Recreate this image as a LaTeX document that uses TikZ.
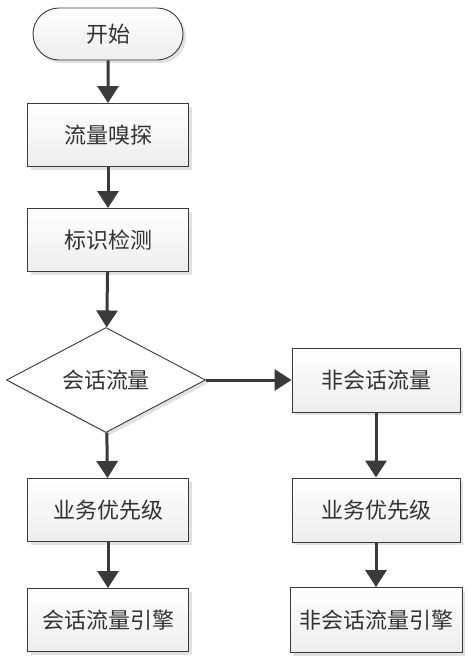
\documentclass[tikz,border=0pt]{standalone}
\usepackage{fontspec}
\newfontfamily\cjk{Noto Sans CJK SC}
\usetikzlibrary{shapes}
\usetikzlibrary{shapes.geometric}
\usetikzlibrary{shadows}
\usetikzlibrary{arrows.meta}
\usetikzlibrary{positioning}
\definecolor{linegray}{HTML}{3A3A3A}
\definecolor{textgray}{HTML}{333333}
\begin{document}
\begin{tikzpicture}[
    x=1pt, y=-1pt,
    font=\cjk\fontsize{22}{26}\selectfont,
    text=textgray
]
\tikzset{
    boxshadow/.style = {drop shadow={shadow xshift=3pt, shadow yshift=-3pt, fill=gray!30, opacity=0.8}},
    mybox/.style = {rectangle, draw=linegray, line width=0.9pt, top color=white, bottom color=gray!14, boxshadow, minimum width=161pt, minimum height=63pt, inner sep=0pt},
    myboxr/.style = {mybox, minimum width=168pt, minimum height=64pt},
    mystart/.style = {rounded rectangle, draw=linegray, line width=0.9pt, top color=white, bottom color=gray!14, boxshadow, minimum width=150pt, minimum height=52pt, inner sep=0pt},
    mydecide/.style = {diamond, draw=linegray, line width=0.9pt, fill=white, boxshadow, minimum width=199pt, minimum height=105pt, aspect=1.9, inner sep=0pt},
    edgen/.style = {-{Triangle[width=21pt,length=17pt]}, line width=3pt, linegray}
}
\useasboundingbox (0,0) rectangle (474,662);
\node[mystart]  at (108,34)  (start) {开始};
\node[mybox]    at (108,135) (sniff) {流量嗅探};
\node[mybox]    at (108,240) (ident) {标识检测};
\node[mydecide] at (106,380) (sess)  {会话流量};
\node[myboxr]   at (376,380) (nsess) {非会话流量};
\node[mybox]    at (108,510) (prio)  {业务优先级};
\node[myboxr]   at (376,510) (nprio) {业务优先级};
\node[mybox]    at (108,620) (eng)   {会话流量引擎};
\node[myboxr, minimum width=172pt, minimum height=65pt] at (376,620) (neng) {非会话流量引擎};
\draw[edgen] (start) -- (sniff);
\draw[edgen] (sniff) -- (ident);
\draw[edgen] (ident) -- (sess);
\draw[edgen] (sess) -- (nsess);
\draw[edgen] (sess) -- (prio);
\draw[edgen] (prio) -- (eng);
\draw[edgen] (nsess) -- (nprio);
\draw[edgen] (nprio) -- (neng);
\end{tikzpicture}
\end{document}
